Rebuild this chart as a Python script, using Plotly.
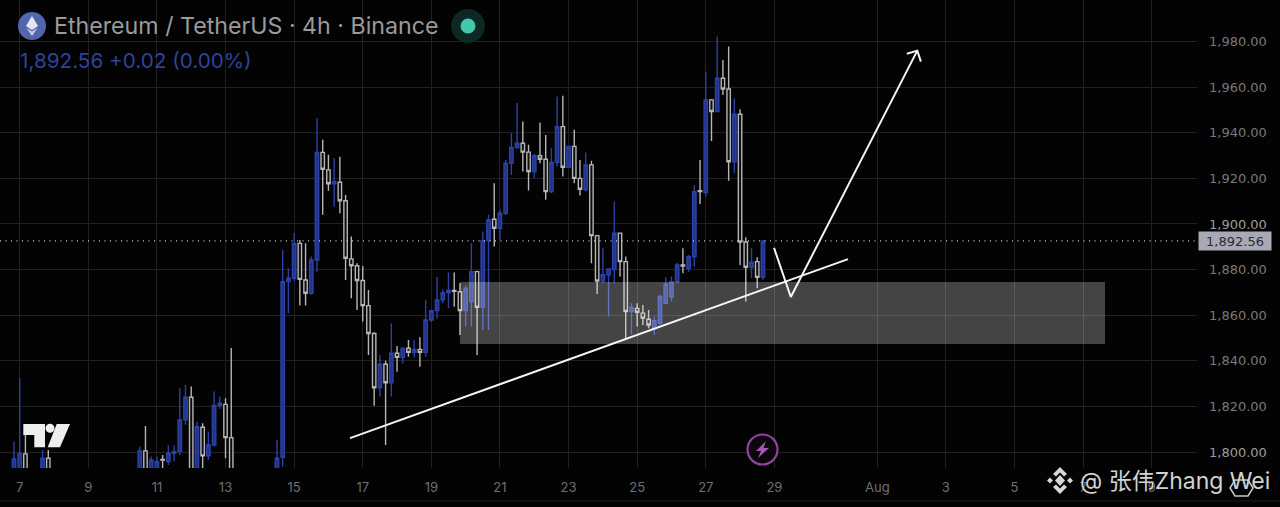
import pandas as pd
import plotly.graph_objects as go

# 4h candles, slot = number of 4h bars after Jul 7 00:00 (only the ones that show above the cut-off)
slots = [-1, 0, 1, 4, 5, 21, 22, 23, 24, 25, 26, 27, 28, 29, 30, 31, 32, 33, 34, 35, 36, 37,
         45, 46, 47, 48, 49, 50, 51, 52, 53, 54, 55, 56, 57, 58, 59, 60, 61, 62, 63, 64, 65,
         66, 67, 68, 69, 70, 71, 72, 73, 74, 75, 76, 77, 78, 79, 80, 81, 82, 83, 84, 85, 86,
         87, 88, 89, 90, 91, 92, 93, 94, 95, 96, 97, 98, 99, 100, 101, 102, 103, 104, 105,
         106, 107, 108, 109, 110, 111, 112, 113, 114, 115, 116, 117, 118, 119, 120, 121, 122,
         123, 124, 125, 126, 127, 128, 129, 130]
opens = [1785, 1785, 1799.2, 1785, 1797.3, 1785, 1800.5, 1785, 1785, 1796.8, 1795.8, 1799.4, 1800.2, 1814.1, 1824, 1790, 1810.9, 1798.3, 1803.1, 1820.4, 1820.9, 1806.3,
         1785, 1797.7, 1874.7, 1876.2, 1891.5, 1875.4, 1869.6, 1884.2, 1931.4, 1923.7, 1917.6, 1918.3, 1910.2, 1884.7, 1881.7, 1875.2, 1864.2, 1852, 1828.2, 1838.5, 1830.4,
         1843.3, 1841.5, 1845.5, 1843.7, 1845, 1843.7, 1857.9, 1862, 1866.7, 1869.9, 1870.8, 1870.3, 1862, 1866, 1879.1, 1863.5, 1892.7, 1902.1, 1898.1, 1904.7, 1926.6,
         1933.5, 1935.4, 1931.5, 1923, 1929.9, 1928.4, 1914.2, 1927, 1942.7, 1924.9, 1934, 1920, 1915, 1925.9, 1894.9, 1875, 1877.7, 1880, 1896,
         1883.5, 1861.6, 1863, 1860.9, 1858.2, 1854.3, 1856.5, 1865.2, 1868, 1874.7, 1882, 1880.6, 1885.7, 1914.6, 1913.8, 1954.4, 1949.3,
         1963.9, 1959.2, 1927.3, 1948.1, 1892.1, 1881, 1883.5, 1876.6]
closes = [1797, 1799.4, 1785, 1797.3, 1785, 1800.5, 1785, 1796.5, 1795.8, 1796.5, 1799.4, 1800.2, 1814.1, 1824, 1785, 1811.1, 1798.3, 1803.1, 1820.4, 1821.4, 1806.3, 1785,
          1797.3, 1874.7, 1876.2, 1891.5, 1875.7, 1869.6, 1884.2, 1931.4, 1924, 1917.6, 1918.6, 1910.2, 1885, 1881.7, 1875.2, 1864.2, 1852, 1828.2, 1838.5, 1830.4, 1843.3,
          1841.5, 1845.5, 1843.7, 1845, 1843.7, 1857.9, 1862, 1866.7, 1869.9, 1870.8, 1870.5, 1862, 1871.8, 1879.1, 1863.5, 1892.7, 1901.8, 1898.1, 1904.7, 1926.6, 1933.5,
          1935.4, 1931.5, 1923, 1929.9, 1928.4, 1914.2, 1927, 1942.7, 1924.9, 1934, 1920, 1915.2, 1925.9, 1894.9, 1875, 1877.7, 1880.3, 1896, 1883.5,
          1861.6, 1863.5, 1861.3, 1858.7, 1855.7, 1857.6, 1868.2, 1873.7, 1874.7, 1882, 1881.6, 1885.7, 1914.2, 1914.2, 1954.4, 1949.3, 1963.9,
          1959.2, 1927.3, 1948.1, 1892.1, 1881, 1883.2, 1876.6, 1892.56]
highs = [1804.6, 1832.5, 1807.5, 1800.9, 1800.9, 1802.4, 1811.4, 1798, 1798, 1798.7, 1803, 1803, 1828, 1829.4, 1828.7, 1813.3, 1812.6, 1809, 1826.5, 1824.3, 1823.6, 1845.6,
         1805.3, 1888.6, 1880.6, 1896, 1893, 1891.5, 1885.7, 1946.4, 1936.9, 1930.3, 1928.8, 1929.5, 1912.7, 1894.5, 1882.8, 1881.6, 1871, 1852.5, 1842.6, 1840, 1856.4,
         1846.5, 1845.5, 1849.1, 1849.1, 1850.3, 1866.7, 1862.3, 1876.9, 1871.4, 1878.7, 1878.7, 1874, 1873, 1891.5, 1879.5, 1896.7, 1904, 1917.9, 1906.2, 1928, 1939.8,
         1953, 1944.9, 1934.7, 1930.7, 1944.5, 1939, 1933.2, 1955.9, 1956.2, 1934, 1941.3, 1928, 1931.3, 1927.7, 1895, 1889.4, 1880.5, 1909.8, 1896,
         1885.7, 1865.2, 1865.2, 1864.5, 1862.3, 1859.4, 1869, 1876.6, 1877, 1883, 1889.4, 1886.4, 1917.1, 1928.1, 1966.8, 1954.8, 1982.2,
         1971.9, 1977.8, 1955.1, 1950.3, 1894.2, 1889.3, 1885.4, 1892.56]
lows = [1780, 1780, 1780, 1780, 1780, 1780, 1780, 1780, 1780, 1792.9, 1794.3, 1795.8, 1798.7, 1812, 1780, 1785, 1792, 1796.5, 1802.4, 1819, 1797.3, 1780,
        1780, 1793.6, 1860.8, 1875, 1864.2, 1864.2, 1869, 1879.1, 1904, 1914.6, 1907.6, 1904.7, 1875.4, 1867.4, 1862.3, 1857.2, 1842.6, 1820.3, 1824.3, 1803.1, 1824.3,
        1835.2, 1838.9, 1841.8, 1841.5, 1837.4, 1841.8, 1857, 1858.6, 1865.2, 1863, 1863.7, 1851.3, 1855, 1855, 1842.6, 1853.5, 1853.5, 1890.1, 1893, 1904, 1921.5,
        1933, 1923, 1914.7, 1920, 1926.6, 1910.6, 1913.5, 1925.2, 1920.8, 1924.5, 1917.9, 1912.5, 1914.2, 1882.8, 1869.3, 1874, 1859.4, 1874, 1877,
        1849.9, 1851.4, 1855, 1855.7, 1854.3, 1851.4, 1855.7, 1865, 1866, 1874, 1878.4, 1879.1, 1881.3, 1908.8, 1912, 1936.4, 1949,
        1956.6, 1918.9, 1922.2, 1882, 1866, 1876.2, 1871.8, 1875.5]

last_price = 1892.56
price_ticks = [1800, 1820, 1840, 1860, 1880, 1900, 1920, 1940, 1960, 1980]
# round levels (1,800 and 1,900) are drawn brighter on the price scale
price_labels = ["<span style='color:#9c9c9c'>1,800.00</span>", "1,820.00", "1,840.00", "1,860.00", "1,880.00",
                "<span style='color:#9c9c9c'>1,900.00</span>", "1,920.00", "1,940.00", "1,960.00", "1,980.00"]
date_ticks = ["2023-07-07", "2023-07-09", "2023-07-11", "2023-07-13", "2023-07-15", "2023-07-17", "2023-07-19",
              "2023-07-21", "2023-07-23", "2023-07-25", "2023-07-27", "2023-07-29", "2023-08-01", "2023-08-03",
              "2023-08-05", "2023-08-07", "2023-08-09"]
date_labels = ["7", "9", "11", "13", "15", "17", "19", "21", "23", "25", "27", "29", "Aug", "3", "5", "7", "9"]

# hand drawn lines on the chart
trend_x = ["2023-07-16 15:07", "2023-07-31 03:30"]
trend_y = [1806.1, 1884.6]
arrow_x = ["2023-07-28 23:45", "2023-07-29 11:30", "2023-08-02 04:00"]
arrow_y = [1889.5, 1868, 1976]
head_x = ["2023-08-01 20:40", "2023-08-02 04:00", "2023-08-02 06:30"]
head_y = [1974.6, 1976, 1971.2]
zone_x = ["2023-07-19 20:00", "2023-08-07 15:20"]
zone_y = [1847.4, 1874.6]

PLOT_W = 1197
PLOT_H = 468
FONT = "Inter, 'Noto Sans', 'Noto Sans CJK SC', sans-serif"
SCALE_FONT = "'DejaVu Sans', sans-serif"


def px(x):
    return x / PLOT_W


def py(y):
    return 1 - y / PLOT_H


def poly(points, color, width=0, line="rgba(0,0,0,0)"):
    path = "M " + " L ".join(f"{px(a):.5f},{py(b):.5f}" for a, b in points) + " Z"
    return dict(type="path", xref="paper", yref="paper", path=path, fillcolor=color,
                line=dict(color=line, width=width), layer="above")


def circle(cx, cy, r, fill, line="rgba(0,0,0,0)", width=0):
    return dict(type="circle", xref="paper", yref="paper", x0=px(cx - r), x1=px(cx + r),
                y0=py(cy + r), y1=py(cy - r), fillcolor=fill, line=dict(color=line, width=width), layer="above")


def label(x, y, text, size, color, anchor="left"):
    return dict(xref="paper", yref="paper", x=px(x), y=py(y), text=text, showarrow=False,
                xanchor=anchor, yanchor="middle", font=dict(family=FONT, size=size, color=color))


times = pd.Timestamp("2023-07-07") + pd.to_timedelta(slots, unit="h") * 4

fig = go.Figure()
fig.add_trace(go.Candlestick(
    x=times, open=opens, high=highs, low=lows, close=closes,
    increasing=dict(line=dict(color="#2c41a6", width=1.4), fillcolor="#22338a"),
    decreasing=dict(line=dict(color="#b6b6b6", width=1.4), fillcolor="#0c0c0c"),
    whiskerwidth=0, showlegend=False, hoverinfo="skip",
))
for xs, ys in [(trend_x, trend_y), (arrow_x, arrow_y), (head_x, head_y)]:
    fig.add_trace(go.Scatter(x=xs, y=ys, mode="lines", line=dict(color="#f4f4f4", width=2),
                             showlegend=False, hoverinfo="skip"))

shapes = [
    dict(type="rect", x0=zone_x[0], x1=zone_x[1], y0=zone_y[0], y1=zone_y[1], xref="x", yref="y",
         fillcolor="rgba(255,255,255,0.26)", line=dict(width=0), layer="above"),
    dict(type="line", xref="paper", x0=0, x1=1, yref="y", y0=last_price, y1=last_price,
         line=dict(color="#cfcfcf", width=1.3, dash="1px,4.5px"), layer="above"),
    dict(type="line", xref="paper", x0=0, x1=1280 / PLOT_W, yref="paper", y0=py(501), y1=py(501),
         line=dict(color="#1c1c1c", width=1)),
    # ethereum badge
    circle(32, 26, 14, "#5266ae"),
    poly([(32, 16), (38, 26), (32, 30), (26, 26)], "#e4e6f2"),
    poly([(32, 31.5), (37.5, 28), (32, 36), (26.5, 28)], "#c9cde6"),
    # market open dot
    circle(468, 26, 17, "#0c2925"),
    circle(468, 26, 7.5, "#43c9aa"),
    # tradingview logo
    poly([(23.3, 424), (45, 424), (45, 447.3), (34.3, 447.3), (34.3, 435), (23.3, 435)], "#eeeeee"),
    circle(50, 428.3, 4.5, "#eeeeee"),
    poly([(56.7, 424), (70, 424), (60, 447.3), (47.7, 447.3)], "#eeeeee"),
    # lightning badge
    circle(762.5, 449.5, 15, "#0a060c", "#90439f", 2.2),
    poly([(766, 441), (756, 451), (761, 451), (758, 458), (769, 448), (763.5, 448)], "#a655bb"),
    # binance watermark
    poly([(1060, 475), (1065, 480.5), (1060, 486), (1055, 480.5)], "#d8d8d8"),
    poly([(1060, 467), (1067, 474), (1064, 476.5), (1060, 472.5), (1056, 476.5), (1053, 474)], "#d8d8d8"),
    poly([(1060, 494), (1067, 487), (1064, 484.5), (1060, 488.5), (1056, 484.5), (1053, 487)], "#d8d8d8"),
    poly([(1047, 480.5), (1050, 477.5), (1053, 480.5), (1050, 483.5)], "#d8d8d8"),
    poly([(1067, 480.5), (1070, 477.5), (1073, 480.5), (1070, 483.5)], "#d8d8d8"),
    # small hexagon under the watermark
    poly([(1235, 480), (1248, 480), (1253, 488), (1248, 496), (1235, 496), (1230, 488)],
         "rgba(0,0,0,0)", 1.5, "#c8c8c8"),
]

annotations = [
    label(52, 26, "Ethereum / TetherUS · 4h · Binance", 23.2, "#9a9a9a"),
    label(17.5, 61, "1,892.56 +0.02 (0.00%)", 20.7, "#2f429c"),
    label(1078, 481, "@ 张伟Zhang Wei", 23, "#d2d2d2"),
    dict(xref="paper", x=px(1235), yref="y", y=last_price, text="1,892.56", showarrow=False,
         font=dict(family=SCALE_FONT, size=13, color="#2b2b33"), bgcolor="#a9a9b6", width=70, height=16,
         xanchor="center", yanchor="middle"),
]

fig.update_layout(
    width=1280, height=507,
    margin=dict(l=0, r=83, t=0, b=39),
    paper_bgcolor="#030303", plot_bgcolor="#030303",
    font=dict(family=FONT, color="#777777", size=13),
    boxgap=0.15,
    shapes=shapes, annotations=annotations,
    showlegend=False,
)
fig.update_xaxes(
    type="date", range=["2023-07-06 10:13", "2023-08-10 07:41"], rangeslider=dict(visible=False),
    tickmode="array", tickvals=date_ticks, ticktext=date_labels, tickangle=0,
    showgrid=True, gridcolor="#212121", gridwidth=1, zeroline=False, showline=False, ticks="",
    ticklabelstandoff=10, tickfont=dict(size=13, color="#6f6f6f"),
)
fig.update_yaxes(
    range=[1793, 1998.2], side="right", tickmode="array", tickvals=price_ticks, ticktext=price_labels,
    showgrid=True, gridcolor="#212121", gridwidth=1, zeroline=False, showline=False, ticks="",
    ticklabelstandoff=11, tickfont=dict(family=SCALE_FONT, size=13, color="#787878"),
)

fig.write_html("out.html", config=dict(displayModeBar=False), post_script="document.body.style.margin='0';")
